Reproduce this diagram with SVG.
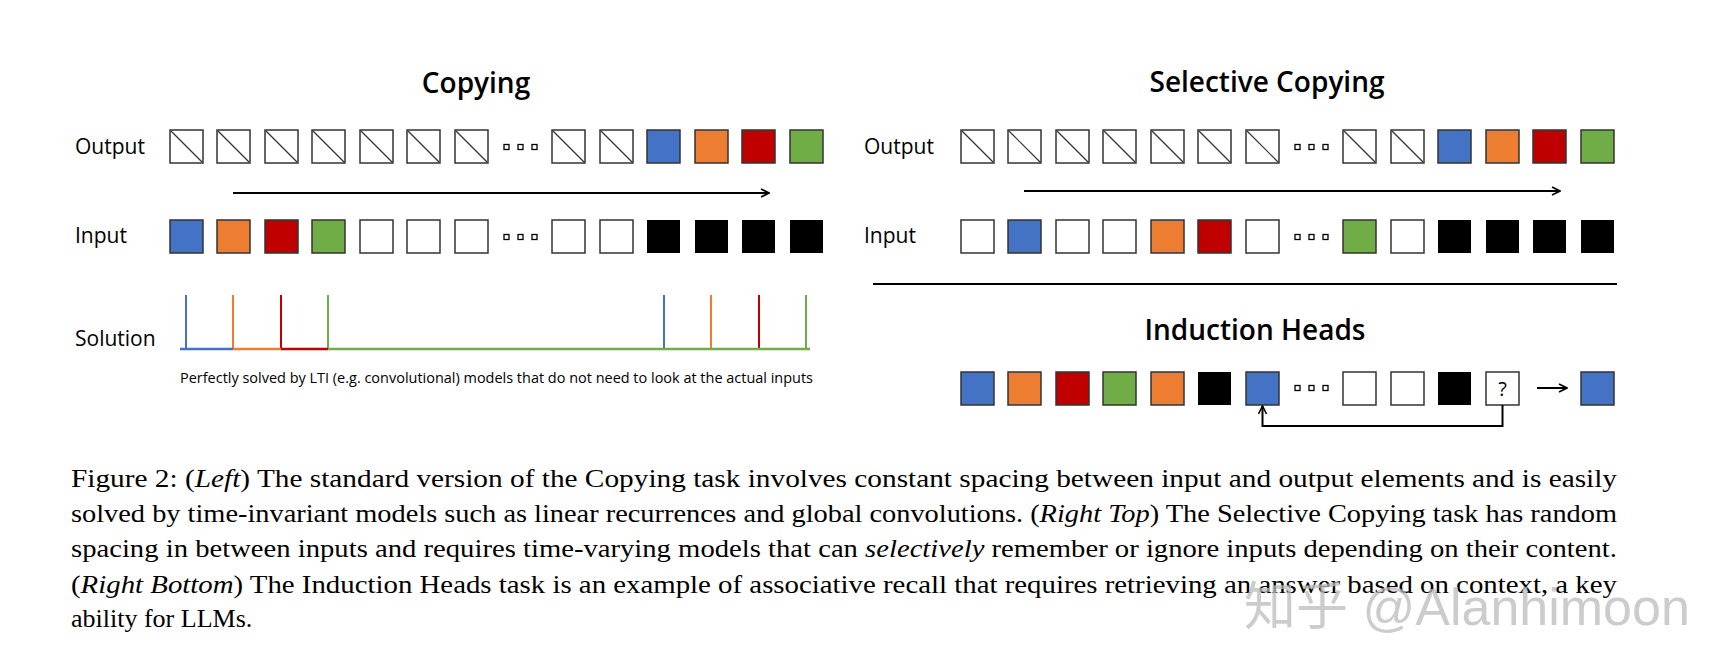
<svg xmlns="http://www.w3.org/2000/svg" width="1730" height="668" viewBox="0 0 1730 668">
<defs>
<style>
.t{font-family:"Open Sans","Liberation Sans",sans-serif;fill:#000}
.title{font-size:28px;font-weight:600;text-anchor:middle}
.lab{font-size:21px}
.b{stroke:#333;stroke-width:1.5}
.w{fill:#fff}.bl{fill:#4472c4}.or{fill:#ed7d31}.rd{fill:#c00000}.gr{fill:#70ad47}.k{fill:#000}
.d{fill:#fff;stroke:#000;stroke-width:1.3}
.cap{font-family:"Liberation Serif",serif;font-size:26px;fill:#000}
</style>
<marker id="ah" viewBox="0 0 10 10" refX="9" refY="5" markerWidth="10" markerHeight="10" markerUnits="userSpaceOnUse" orient="auto"><path d="M1,1 L9,5 L1,9" fill="none" stroke="#000" stroke-width="1.6"/></marker>
<g id="diag"><rect width="33" height="33" class="b w"/><line x1="1" y1="1" x2="32" y2="32" stroke="#333" stroke-width="1.2"/></g>
<g id="dots"><rect x="0" y="-2.5" width="5" height="5" class="d"/><rect x="14" y="-2.5" width="5" height="5" class="d"/><rect x="28" y="-2.5" width="5" height="5" class="d"/></g>
</defs>
<rect width="1730" height="668" fill="#fff"/>

<g id="copying">
<text class="t title" x="476" y="93">Copying</text>
<text class="t lab" x="75" y="154">Output</text>
<text class="t lab" x="75" y="243">Input</text>
<text class="t lab" x="75" y="346">Solution</text>
<g id="copy-output">
<use href="#diag" x="170" y="130"/><use href="#diag" x="217" y="130"/><use href="#diag" x="265" y="130"/><use href="#diag" x="312" y="130"/><use href="#diag" x="360" y="130"/><use href="#diag" x="407" y="130"/><use href="#diag" x="455" y="130"/>
<use href="#dots" x="504" y="147"/>
<use href="#diag" x="552" y="130"/><use href="#diag" x="600" y="130"/>
<rect x="647" y="130" width="33" height="33" class="b bl"/><rect x="695" y="130" width="33" height="33" class="b or"/><rect x="742" y="130" width="33" height="33" class="b rd"/><rect x="790" y="130" width="33" height="33" class="b gr"/>
</g>
<g id="copy-input">
<rect x="170" y="220" width="33" height="33" class="b bl"/><rect x="217" y="220" width="33" height="33" class="b or"/><rect x="265" y="220" width="33" height="33" class="b rd"/><rect x="312" y="220" width="33" height="33" class="b gr"/>
<rect x="360" y="220" width="33" height="33" class="b w"/><rect x="407" y="220" width="33" height="33" class="b w"/><rect x="455" y="220" width="33" height="33" class="b w"/>
<use href="#dots" x="504" y="237"/>
<rect x="552" y="220" width="33" height="33" class="b w"/><rect x="600" y="220" width="33" height="33" class="b w"/>
<rect x="647" y="220" width="33" height="33" class="k"/><rect x="695" y="220" width="33" height="33" class="k"/><rect x="742" y="220" width="33" height="33" class="k"/><rect x="790" y="220" width="33" height="33" class="k"/>
</g>
<g id="solution" stroke-width="2">
<line x1="186" y1="295" x2="186" y2="349" stroke="#4472c4"/><line x1="233" y1="295" x2="233" y2="349" stroke="#ed7d31"/><line x1="281" y1="295" x2="281" y2="349" stroke="#c00000"/><line x1="328" y1="295" x2="328" y2="349" stroke="#70ad47"/>
<line x1="664" y1="295" x2="664" y2="349" stroke="#4472c4"/><line x1="711" y1="295" x2="711" y2="349" stroke="#ed7d31"/><line x1="759" y1="295" x2="759" y2="349" stroke="#c00000"/><line x1="806" y1="295" x2="806" y2="349" stroke="#70ad47"/>
<line x1="180" y1="349" x2="233" y2="349" stroke="#4472c4" stroke-width="2.5"/><line x1="233" y1="349" x2="281" y2="349" stroke="#ed7d31" stroke-width="2.5"/><line x1="281" y1="349" x2="328" y2="349" stroke="#c00000" stroke-width="2.5"/><line x1="328" y1="349" x2="810" y2="349" stroke="#70ad47" stroke-width="2.5"/>
</g>
<text class="t" x="180" y="383" font-size="14.5" textLength="633" lengthAdjust="spacingAndGlyphs">Perfectly solved by LTI (e.g. convolutional) models that do not need to look at the actual inputs</text>
</g>

<g id="selective">
<text class="t title" x="1267" y="92">Selective Copying</text>
<text class="t lab" x="864" y="154">Output</text>
<text class="t lab" x="864" y="243">Input</text>
<g id="sel-output">
<use href="#diag" x="961" y="130"/><use href="#diag" x="1008" y="130"/><use href="#diag" x="1056" y="130"/><use href="#diag" x="1103" y="130"/><use href="#diag" x="1151" y="130"/><use href="#diag" x="1198" y="130"/><use href="#diag" x="1246" y="130"/>
<use href="#dots" x="1295" y="147"/>
<use href="#diag" x="1343" y="130"/><use href="#diag" x="1391" y="130"/>
<rect x="1438" y="130" width="33" height="33" class="b bl"/><rect x="1486" y="130" width="33" height="33" class="b or"/><rect x="1533" y="130" width="33" height="33" class="b rd"/><rect x="1581" y="130" width="33" height="33" class="b gr"/>
</g>
<g id="sel-input">
<rect x="961" y="220" width="33" height="33" class="b w"/><rect x="1008" y="220" width="33" height="33" class="b bl"/><rect x="1056" y="220" width="33" height="33" class="b w"/><rect x="1103" y="220" width="33" height="33" class="b w"/><rect x="1151" y="220" width="33" height="33" class="b or"/><rect x="1198" y="220" width="33" height="33" class="b rd"/><rect x="1246" y="220" width="33" height="33" class="b w"/>
<use href="#dots" x="1295" y="237"/>
<rect x="1343" y="220" width="33" height="33" class="b gr"/><rect x="1391" y="220" width="33" height="33" class="b w"/>
<rect x="1438" y="220" width="33" height="33" class="k"/><rect x="1486" y="220" width="33" height="33" class="k"/><rect x="1533" y="220" width="33" height="33" class="k"/><rect x="1581" y="220" width="33" height="33" class="k"/>
</g>
</g>

<g id="induction">
<text class="t title" x="1255" y="340">Induction Heads</text>
<rect x="961" y="372" width="33" height="33" class="b bl"/><rect x="1008" y="372" width="33" height="33" class="b or"/><rect x="1056" y="372" width="33" height="33" class="b rd"/><rect x="1103" y="372" width="33" height="33" class="b gr"/><rect x="1151" y="372" width="33" height="33" class="b or"/><rect x="1198" y="372" width="33" height="33" class="k"/><rect x="1246" y="372" width="33" height="33" class="b bl"/>
<use href="#dots" x="1295" y="388"/>
<rect x="1343" y="372" width="33" height="33" class="b w"/><rect x="1391" y="372" width="33" height="33" class="b w"/><rect x="1438" y="372" width="33" height="33" class="k"/>
<rect x="1486" y="372" width="33" height="33" class="b w"/>
<text class="t" x="1502.5" y="396" font-size="20" text-anchor="middle">?</text>
<rect x="1581" y="372" width="33" height="33" class="b bl"/>
</g>

<g id="connectors" fill="none" stroke="#000" stroke-width="2">
<line x1="233" y1="193" x2="769" y2="193" marker-end="url(#ah)"/>
<line x1="1024" y1="191" x2="1560" y2="191" marker-end="url(#ah)"/>
<line x1="873" y1="284" x2="1617" y2="284"/>
<line x1="1537" y1="388" x2="1567" y2="388" marker-end="url(#ah)"/>
<polyline points="1502.5,405 1502.5,426 1262.5,426 1262.5,406" marker-end="url(#ah)"/>
</g>

<g id="caption">
<text class="cap" x="71" y="487" textLength="1546" lengthAdjust="spacingAndGlyphs">Figure 2: (<tspan font-style="italic">Left</tspan>) The standard version of the Copying task involves constant spacing between input and output elements and is easily</text>
<text class="cap" x="71" y="522" textLength="1546" lengthAdjust="spacingAndGlyphs">solved by time-invariant models such as linear recurrences and global convolutions. (<tspan font-style="italic">Right Top</tspan>) The Selective Copying task has random</text>
<text class="cap" x="71" y="557" textLength="1546" lengthAdjust="spacingAndGlyphs">spacing in between inputs and requires time-varying models that can <tspan font-style="italic">selectively</tspan> remember or ignore inputs depending on their content.</text>
<text class="cap" x="71" y="593" textLength="1546" lengthAdjust="spacingAndGlyphs">(<tspan font-style="italic">Right Bottom</tspan>) The Induction Heads task is an example of associative recall that requires retrieving an answer based on context, a key</text>
<text class="cap" x="71" y="627">ability for LLMs.</text>
</g>
<text x="1244" y="625" font-family="'Liberation Sans','Noto Sans CJK SC',sans-serif" font-size="52" fill="#bbbbbb" fill-opacity="0.75">知乎 @Alanhimoon</text>
</svg>
